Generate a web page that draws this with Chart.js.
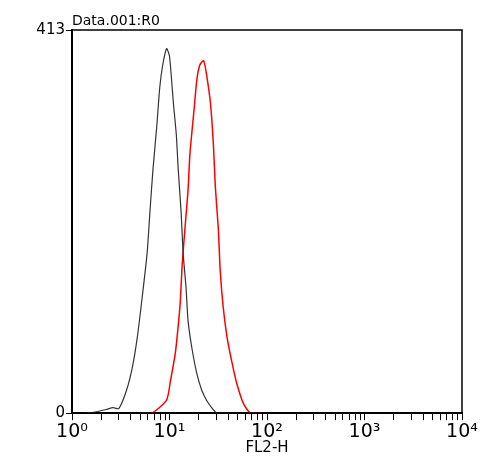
<!DOCTYPE html>
<html>
<head>
<meta charset="utf-8">
<script src="https://cdn.jsdelivr.net/npm/chart.js@4.4.0/dist/chart.umd.min.js"></script>
<style>
  body { margin: 0; background: #fff; }
  #wrap { width: 480px; height: 474px; }
</style>
</head>
<body>
<div id="wrap"><canvas id="histo"></canvas></div>
<script>
// x positions in decades (log10 of FL2-H), counts
const controlLog = [0.10, 0.22, 0.35, 0.42, 0.48, 0.56, 0.62, 0.67, 0.72, 0.77, 0.80, 0.83, 0.87, 0.90, 0.93, 0.97, 1.00, 1.04, 1.07, 1.09, 1.12, 1.14, 1.17, 1.19, 1.23, 1.28, 1.33, 1.38, 1.44, 1.49, 1.60];
const controlCount = [0, 1, 4, 6, 5, 25, 50, 82, 125, 172, 218, 262, 310, 351, 375, 393, 385, 334, 300, 262, 215, 172, 135, 100, 70, 43, 25, 14, 5, 0, 0];
const sampleLog = [0.70, 0.82, 0.97, 1.01, 1.06, 1.09, 1.11, 1.13, 1.16, 1.19, 1.21, 1.25, 1.28, 1.31, 1.35, 1.38, 1.42, 1.45, 1.47, 1.50, 1.52, 1.55, 1.59, 1.64, 1.69, 1.76, 1.83, 1.95];
const sampleCount = [0, 0, 14, 35, 65, 95, 119, 160, 201, 240, 280, 325, 359, 375, 380, 365, 334, 290, 244, 200, 154, 115, 82, 55, 32, 10, 0, 0];
const yTicks = [0, 413];
const supers = ['⁰', '¹', '²', '³', '⁴'];

function pts(xs, ys) {
    return xs.map((x, i) => ({ x: x, y: ys[i] }));
}

// decade ticks plus minor log ticks
let xTickVals = [];
for (let d = 0; d <= 4; d++) {
    xTickVals.push(d);
    if (d < 4) for (let m = 2; m <= 9; m++) xTickVals.push(d + Math.log10(m));
}

new Chart(document.getElementById('histo'), {
    type: 'line',
    data: {
        datasets: [{
            data: pts(controlLog, controlCount),
            borderColor: '#333333',
            borderWidth: 1.2,
            pointRadius: 0,
            tension: 0.2
        }, {
            data: pts(sampleLog, sampleCount),
            borderColor: '#ff0000',
            borderWidth: 1.5,
            pointRadius: 0,
            tension: 0.2
        }]
    },
    options: {
        animation: false,
        responsive: true,
        maintainAspectRatio: false,
        layout: { padding: { top: 30, right: 18, left: 0, bottom: 17 } },
        plugins: {
            legend: { display: false },
            tooltip: { enabled: false }
        },
        scales: {
            x: {
                type: 'linear',
                min: 0,
                max: 4,
                afterBuildTicks: axis => { axis.ticks = xTickVals.map(v => ({ value: v })); },
                ticks: {
                    autoSkip: false,
                    maxRotation: 0,
                    color: '#000',
                    padding: 0,
                    font: { family: 'DejaVu Sans', size: 19 },
                    callback: v => Number.isInteger(v) ? '10' + supers[v] : ''
                },
                grid: {
                    drawOnChartArea: false,
                    color: '#000',
                    tickLength: 7,
                    tickColor: '#000'
                },
                border: { color: '#000', width: 2 },
                title: {
                    display: true,
                    text: 'FL2-H',
                    color: '#000',
                    font: { family: 'DejaVu Sans', size: 15 },
                    padding: { top: -4, bottom: 0 }
                }
            },
            y: {
                min: 0,
                max: 413,
                afterBuildTicks: axis => { axis.ticks = yTicks.map(v => ({ value: v })); },
                afterFit: axis => { axis.width = 72; },
                ticks: {
                    color: '#000',
                    padding: 1,
                    font: { family: 'DejaVu Sans', size: 15 }
                },
                grid: {
                    drawOnChartArea: false,
                    tickLength: 6,
                    tickColor: '#000'
                },
                border: { color: '#000', width: 2 }
            }
        }
    },
    plugins: [{
        id: 'frame',
        afterDraw(chart) {
            const a = chart.chartArea, c = chart.ctx;
            c.save();
            c.strokeStyle = '#000';
            c.lineWidth = 1.5;
            c.strokeRect(a.left, a.top, a.right - a.left, a.bottom - a.top);
            c.fillStyle = '#000';
            c.font = '14px "DejaVu Sans"';
            c.textBaseline = 'bottom';
            c.fillText('Data.001:R0', a.left, a.top - 2);
            c.restore();
        }
    }]
});
</script>
</body>
</html>
